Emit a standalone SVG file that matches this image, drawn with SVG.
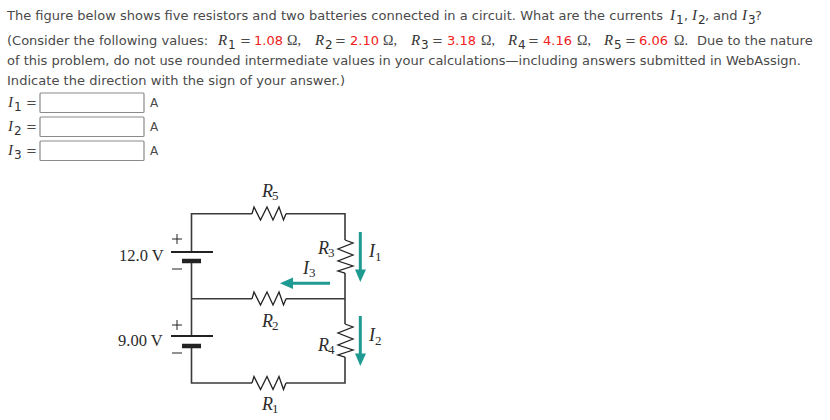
<svg xmlns="http://www.w3.org/2000/svg" width="830" height="420" viewBox="0 0 830 420">
<style>
text{font-family:"DejaVu Sans",Verdana,sans-serif;font-size:13px;fill:#4a4a4a}
.m{font-family:"Liberation Serif","DejaVu Serif",serif;font-style:italic;font-size:15px;fill:#333}
.s{font-size:12px;fill:#333}
.r{fill:#f02020}
.o{font-family:"Liberation Serif",serif;font-size:14px;fill:#444}
.l{font-family:"Liberation Serif",serif;font-size:16.500px;fill:#2b2b2b}
.li{font-family:"Liberation Serif",serif;font-style:italic;font-size:18px;fill:#2b2b2b}
.ls{font-family:"Liberation Serif",serif;font-size:13px;fill:#2b2b2b}
.w{fill:none;stroke:#3a3a3a;stroke-width:1.6}
.z{fill:none;stroke:#222;stroke-width:1.3}
.p{stroke:#222;fill:none}
.a{stroke:#1f9a92;stroke-width:3;fill:none}
.h{fill:#1f9a92}
.b{fill:#fff;stroke:#8a8a8a;stroke-width:1.2}
</style>
<g id="question">
<text x="7" y="20" textLength="656" lengthAdjust="spacing">The figure below shows five resistors and two batteries connected in a circuit. What are the currents</text>
<text class="m" x="670" y="20">I</text><text class="s" x="676" y="24">1</text><text x="684" y="20">,</text>
<text class="m" x="692" y="20">I</text><text class="s" x="698" y="24">2</text><text x="705" y="20">,</text><text x="713" y="20">and</text>
<text class="m" x="742" y="20">I</text><text class="s" x="748" y="24">3</text><text x="755" y="20">?</text>
<text x="7" y="45">(Consider the following values:</text>
<text class="m" x="218" y="45">R</text><text class="s" x="228" y="49">1</text><text x="240" y="45">=</text><text class="r" x="254" y="45">1.08</text><text class="o" x="287" y="45">Ω,</text>
<text class="m" x="315" y="45">R</text><text class="s" x="325" y="49">2</text><text x="335" y="45">=</text><text class="r" x="350" y="45">2.10</text><text class="o" x="383" y="45">Ω,</text>
<text class="m" x="411" y="45">R</text><text class="s" x="421" y="49">3</text><text x="432" y="45">=</text><text class="r" x="447" y="45">3.18</text><text class="o" x="481" y="45">Ω,</text>
<text class="m" x="508" y="45">R</text><text class="s" x="518" y="49">4</text><text x="528" y="45">=</text><text class="r" x="543" y="45">4.16</text><text class="o" x="577" y="45">Ω,</text>
<text class="m" x="604" y="45">R</text><text class="s" x="614" y="49">5</text><text x="625" y="45">=</text><text class="r" x="639" y="45">6.06</text><text class="o" x="674" y="45">Ω.</text>
<text x="697" y="45">Due to the nature</text>
<text x="7" y="65" textLength="794" lengthAdjust="spacing">of this problem, do not use rounded intermediate values in your calculations—including answers submitted in WebAssign.</text>
<text x="7" y="85" textLength="338" lengthAdjust="spacing">Indicate the direction with the sign of your answer.)</text>
</g>
<g id="answer-1"><text class="m" x="8" y="107">I</text><text class="s" x="14" y="111">1</text><text x="26" y="107">=</text><rect class="b" x="40" y="93" width="104" height="19.500" rx="1"/><text x="150" y="107" style="font-size:12px">A</text></g>
<g id="answer-2"><text class="m" x="8" y="131">I</text><text class="s" x="14" y="135">2</text><text x="26" y="131">=</text><rect class="b" x="40" y="117" width="104" height="19.500" rx="1"/><text x="150" y="131" style="font-size:12px">A</text></g>
<g id="answer-3"><text class="m" x="8" y="155">I</text><text class="s" x="14" y="159">3</text><text x="26" y="155">=</text><rect class="b" x="40" y="141" width="104" height="19.500" rx="1"/><text x="150" y="155" style="font-size:12px">A</text></g>
<g id="connectors">
<path class="w" d="M252 213.700H191.500V252M191.500 261V298.700M252 298.700H191.500V336M191.500 346V383H252"/>
<path class="w" d="M286 213.700H345V240M345 273V298.700M286 298.700H345V324M345 357V383H286"/>
</g>
<g id="battery-12"><path class="p" stroke-width="1.800" d="M171 252H213"/><path class="p" stroke-width="4.500" d="M182 261H201"/><path class="p" stroke-width="1" d="M172 239H182M177 234V244M172 269H182"/><text class="l" x="119" y="261">12.0 V</text></g>
<g id="battery-9"><path class="p" stroke-width="1.800" d="M171 336H213"/><path class="p" stroke-width="4.500" d="M182 346H201"/><path class="p" stroke-width="1" d="M172 325H182M177 320V330M172 353H182"/><text class="l" x="118" y="346">9.00 V</text></g>
<g id="r5"><path class="z" d="M252 213.700L254 207L260.500 220L267 207L273 220L279 207L283.500 220L286 213.700"/><text class="li" x="262" y="197">R</text><text class="ls" x="272" y="200">5</text></g>
<g id="r2"><path class="z" d="M252 298.700L254 292L260.500 305L267 292L273 305L279 292L283.500 305L286 298.700"/><text class="li" x="262" y="327">R</text><text class="ls" x="272" y="330">2</text></g>
<g id="r1"><path class="z" d="M252 383L254 376.500L260.500 389.500L267 376.500L273 389.500L279 376.500L283.500 389.500L286 383"/><text class="li" x="262" y="410">R</text><text class="ls" x="272" y="413">1</text></g>
<g id="r3"><path class="z" d="M345 240L353 243L338 249L353 255L338 261L353 266L338 271L345 273"/><text class="li" x="318" y="254">R</text><text class="ls" x="328" y="257">3</text></g>
<g id="r4"><path class="z" d="M345 324L353 327L338 333L353 339L338 345L353 350L338 355L345 357"/><text class="li" x="318" y="351">R</text><text class="ls" x="328" y="354">4</text></g>
<g id="i1"><path class="a" d="M360.300 232V270"/><path class="h" d="M355 269.500H366L360.300 282Z"/><text class="li" x="369" y="257">I</text><text class="ls" x="375" y="261">1</text></g>
<g id="i2"><path class="a" d="M360.300 316V354"/><path class="h" d="M355 353.500H366L360.300 366Z"/><text class="li" x="369" y="341">I</text><text class="ls" x="375" y="345">2</text></g>
<g id="i3"><path class="a" d="M330 283.300H292"/><path class="h" d="M293 277.500V289L280 283.300Z"/><text class="li" x="303" y="274">I</text><text class="ls" x="309" y="277">3</text></g>
</svg>
